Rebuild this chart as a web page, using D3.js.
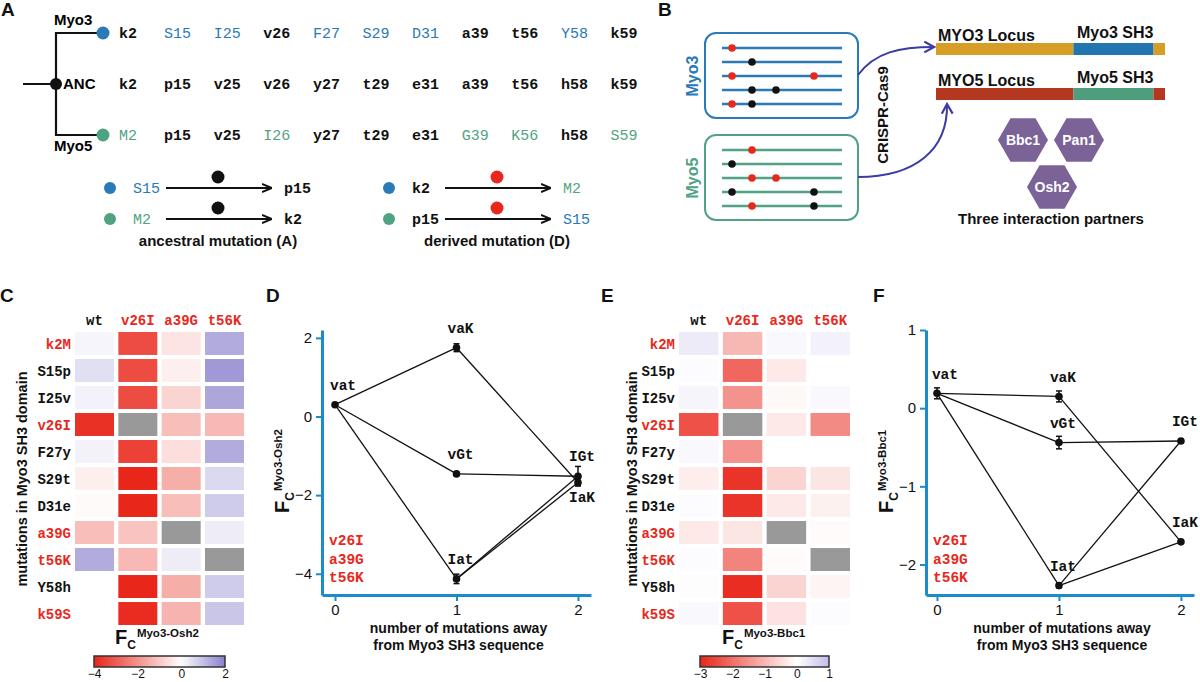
<!DOCTYPE html>
<html>
<head>
<meta charset="utf-8">
<script src="https://cdn.jsdelivr.net/npm/d3@7"></script>
<style>
  body { margin: 0; background: #fff; }
  svg { display: block; font-family: "Liberation Sans", Arial, sans-serif; }
  .mono { font-family: "Liberation Mono", "Courier New", monospace; }
</style>
</head>
<body>
<svg id="fig" width="1200" height="682"></svg>
<script>
// ---------- data ----------
// panel A: residues at the 11 variable sites
const myo3Seq = ["k2", "S15", "I25", "v26", "F27", "S29", "D31", "a39", "t56", "Y58", "k59"];
const ancSeq  = ["k2", "p15", "v25", "v26", "y27", "t29", "e31", "a39", "t56", "h58", "k59"];
const myo5Seq = ["M2", "p15", "v25", "I26", "y27", "t29", "e31", "G39", "K56", "h58", "S59"];
const ancestralExamples = [["S15", "p15"], ["M2", "k2"]];
const derivedExamples = [["k2", "M2"], ["p15", "S15"]];

// panel B: variant libraries (site index 0-60, A = ancestral, D = derived)
const myo3Variants = [
  [{ pos: 5, kind: "D" }],
  [{ pos: 15, kind: "A" }],
  [{ pos: 5, kind: "D" }, { pos: 46, kind: "D" }],
  [{ pos: 15, kind: "A" }, { pos: 27, kind: "A" }],
  [{ pos: 5, kind: "D" }, { pos: 15, kind: "A" }]
];
const myo5Variants = [
  [{ pos: 15, kind: "D" }],
  [{ pos: 5, kind: "A" }],
  [{ pos: 15, kind: "D" }, { pos: 27, kind: "D" }],
  [{ pos: 5, kind: "A" }, { pos: 46, kind: "A" }],
  [{ pos: 15, kind: "D" }, { pos: 46, kind: "A" }]
];
const lociNames = ["MYO3 Locus", "MYO5 Locus"];
const sh3Names = ["Myo3 SH3", "Myo5 SH3"];
const partners = ["Bbc1", "Pan1", "Osh2"];

// panels C, E: heatmaps (null = same mutation, grey)
const heatCols = ["wt", "v26I", "a39G", "t56K"];
const heatRows = ["k2M", "S15p", "I25v", "v26I", "F27y", "S29t", "D31e", "a39G", "t56K", "Y58h", "k59S"];
const redRows = ["k2M", "v26I", "a39G", "t56K", "k59S"];
const osh2Heat = [
  [0.15, -3.3, -0.5, 1.3],
  [0.5, -3.3, -0.3, 1.6],
  [0.2, -3.3, -0.8, 1.4],
  [-3.8, null, -1.2, -1.3],
  [0.2, -3.5, -0.6, 1.3],
  [-0.3, -4.0, -1.5, 0.6],
  [-0.1, -4.0, -1.2, 0.8],
  [-1.2, -1.1, null, 0.3],
  [1.3, -1.3, 0.3, null],
  [0.0, -4.0, -1.5, 0.8],
  [0.0, -3.9, -1.4, 0.9]
];
const bbc1Heat = [
  [0.3, -1.0, 0.1, 0.2],
  [0.05, -2.1, -0.3, 0.0],
  [0.15, -1.5, -0.1, 0.1],
  [-2.4, null, -0.3, -1.6],
  [0.1, -1.5, 0.0, 0.0],
  [-0.25, -2.8, -0.6, -0.35],
  [0.05, -2.8, -0.3, -0.2],
  [-0.3, -0.35, null, -0.05],
  [0.05, -1.7, -0.05, null],
  [0.03, -2.9, -0.6, -0.15],
  [0.1, -2.4, -0.4, 0.05]
];

// panels D, F: fitness landscapes
const genotypes = ["vat", "vaK", "vGt", "Iat", "IGt", "IaK"];
const genoSteps = [0, 1, 1, 1, 2, 2];
const osh2Fc  = [0.3, 1.75, -1.46, -4.13, -1.52, -1.68];
const osh2Err = [0.04, 0.1, 0.04, 0.12, 0.25, 0.06];
const bbc1Fc  = [0.19, 0.15, -0.44, -2.27, -0.42, -1.71];
const bbc1Err = [0.07, 0.07, 0.08, 0.03, 0.02, 0.02];
const edges = [["vat", "vaK"], ["vat", "vGt"], ["vat", "Iat"], ["vaK", "IaK"], ["vGt", "IGt"], ["Iat", "IGt"], ["Iat", "IaK"]];
const landscapeMuts = ["v26I", "a39G", "t56K"];

// ---------- styles ----------
const BLUE = "#2a7ab8", GREEN = "#4fa383", RED = "#e8281c", AXIS = "#1b8bcb", INK = "#111";
const svg = d3.select("#fig");

function panelLetter(x, y, t) {
  svg.append("text").attr("x", x).attr("y", y).attr("font-size", 19)
    .attr("font-weight", "bold").attr("fill", INK).text(t);
}

// ---------- panel A ----------
panelLetter(1, 16, "A");
const gA = svg.append("g");
const seqX = d3.scalePoint().domain(d3.range(myo3Seq.length)).range([128, 624]);
const rowY = d3.scalePoint().domain([0, 1, 2]).range([33, 135]);
const isUpper = d => d[0] === d[0].toUpperCase();
const resColor = d => !isUpper(d) ? INK : (myo3Seq.includes(d) ? BLUE : GREEN);

// tree
gA.append("path").attr("fill", "none").attr("stroke", INK).attr("stroke-width", 2.2)
  .attr("d", `M23,${rowY(1)}H56M103,${rowY(0)}H56V${rowY(2)}H103`);
gA.append("circle").attr("cx", 56).attr("cy", rowY(1)).attr("r", 6).attr("fill", INK);
gA.append("circle").attr("cx", 103).attr("cy", rowY(0)).attr("r", 6.5).attr("fill", BLUE);
gA.append("circle").attr("cx", 103).attr("cy", rowY(2)).attr("r", 6.5).attr("fill", GREEN);
gA.append("text").attr("x", 54).attr("y", 25).attr("font-size", 15).attr("font-weight", "bold").text("Myo3");
gA.append("text").attr("x", 54).attr("y", 151).attr("font-size", 15).attr("font-weight", "bold").text("Myo5");
gA.append("text").attr("x", 63).attr("y", rowY(1)).attr("dy", "0.36em").attr("font-size", 15)
  .attr("font-weight", "bold").text("ANC");

[myo3Seq, ancSeq, myo5Seq].forEach((seq, r) => {
  gA.selectAll(null).data(seq).enter().append("text")
    .attr("class", "mono")
    .attr("x", (d, i) => seqX(i)).attr("y", rowY(r)).attr("dy", "0.36em")
    .attr("text-anchor", "middle").attr("font-size", 15)
    .attr("font-weight", d => isUpper(d) ? "normal" : "bold")
    .attr("fill", d => isUpper(d) ? (r === 0 ? BLUE : GREEN) : INK)
    .text(d => d);
});

// mutation type legend
svg.append("defs").html(
  `<marker id="ah" viewBox="0 0 10 10" refX="9" refY="5" markerWidth="10" markerHeight="10" markerUnits="userSpaceOnUse" orient="auto">
     <path d="M0,1 L10,5 L0,9" fill="none" stroke="${INK}" stroke-width="2"/></marker>
   <marker id="bh" viewBox="0 0 12 12" refX="10" refY="6" markerWidth="13" markerHeight="13" markerUnits="userSpaceOnUse" orient="auto">
     <path d="M1,1 L10,6 L1,11" fill="none" stroke="#3b3ca6" stroke-width="2"/></marker>`);

const exRowY = [188, 219];
function mutationLegend(cx, examples, dotColor, label) {
  const g = gA.append("g").attr("transform", `translate(${cx},0)`);
  examples.forEach((ex, i) => {
    const y = exRowY[i];
    g.append("circle").attr("cx", -108).attr("cy", y).attr("r", 6).attr("fill", i === 0 ? BLUE : GREEN);
    g.append("text").attr("class", "mono").attr("x", -85).attr("y", y).attr("dy", "0.36em")
      .attr("font-size", 15).attr("font-weight", isUpper(ex[0]) ? "normal" : "bold")
      .attr("fill", resColor(ex[0])).text(ex[0]);
    g.append("line").attr("x1", -52).attr("x2", 53).attr("y1", y).attr("y2", y)
      .attr("stroke", INK).attr("stroke-width", 2.2).attr("marker-end", "url(#ah)");
    g.append("circle").attr("cx", 0).attr("cy", y - 11).attr("r", 6.5).attr("fill", dotColor);
    g.append("text").attr("class", "mono").attr("x", 66).attr("y", y).attr("dy", "0.36em")
      .attr("font-size", 15).attr("font-weight", isUpper(ex[1]) ? "normal" : "bold")
      .attr("fill", resColor(ex[1])).text(ex[1]);
  });
  g.append("text").attr("x", 0).attr("y", 246).attr("text-anchor", "middle")
    .attr("font-size", 15).attr("font-weight", "bold").attr("fill", INK).text(label);
}
mutationLegend(218, ancestralExamples, INK, "ancestral mutation (A)");
mutationLegend(497, derivedExamples, RED, "derived mutation (D)");

// ---------- panel B ----------
panelLetter(658, 16, "B");
const gB = svg.append("g");
const siteX = d3.scaleLinear().domain([0, 60]).range([722, 842]);
function library(y0, variants, color, name) {
  gB.append("rect").attr("x", 705).attr("y", y0).attr("width", 153).attr("height", 85)
    .attr("rx", 11).attr("fill", "none").attr("stroke", color).attr("stroke-width", 2);
  const ly = d3.scalePoint().domain(d3.range(variants.length)).range([y0 + 15, y0 + 71]);
  variants.forEach((v, i) => {
    gB.append("line").attr("x1", siteX(0)).attr("x2", siteX(60)).attr("y1", ly(i)).attr("y2", ly(i))
      .attr("stroke", color).attr("stroke-width", 2.6);
    gB.selectAll(null).data(v).enter().append("circle")
      .attr("cx", d => siteX(d.pos)).attr("cy", ly(i)).attr("r", 3.8)
      .attr("fill", d => d.kind === "D" ? RED : INK);
  });
  gB.append("text").attr("transform", `translate(692,${y0 + 43}) rotate(-90)`)
    .attr("text-anchor", "middle").attr("dy", "0.36em").attr("font-size", 16)
    .attr("font-weight", "bold").attr("fill", color).text(name);
}
library(33, myo3Variants, BLUE, "Myo3");
library(135, myo5Variants, GREEN, "Myo5");

gB.append("text").attr("transform", "translate(883,115) rotate(-90)").attr("text-anchor", "middle")
  .attr("dy", "0.36em").attr("font-size", 15).attr("font-weight", "bold").attr("fill", INK).text("CRISPR-Cas9");
gB.append("path").attr("d", "M858,75 C875,52 900,47 934,47").attr("fill", "none")
  .attr("stroke", "#3b3ca6").attr("stroke-width", 2).attr("marker-end", "url(#bh)");
gB.append("path").attr("d", "M858,177 C915,177 948,150 947,104").attr("fill", "none")
  .attr("stroke", "#3b3ca6").attr("stroke-width", 2).attr("marker-end", "url(#bh)");

const locusX = d3.scaleLinear().domain([0, 100]).range([936, 1165]);
const locusSegments = [[0, 60], [60, 95], [95, 100]];
const locusColors = [["#d69e26", "#2176b0", "#d69e26"], ["#b3381f", "#4e9e7e", "#b3381f"]];
const locusY = [43, 88];
lociNames.forEach((nm, k) => {
  gB.selectAll(null).data(locusSegments).enter().append("rect")
    .attr("x", d => locusX(d[0])).attr("width", d => locusX(d[1]) - locusX(d[0]))
    .attr("y", locusY[k]).attr("height", 12).attr("fill", (d, i) => locusColors[k][i]);
  gB.append("text").attr("x", 938).attr("y", locusY[k] - 2).attr("font-size", 16)
    .attr("font-weight", "bold").attr("fill", INK).text(nm);
  gB.append("text").attr("x", 1077).attr("y", locusY[k] - 5).attr("font-size", 16)
    .attr("font-weight", "bold").attr("fill", INK).text(sh3Names[k]);
});
const hexPts = d3.range(6).map(i => [25 * Math.cos(i * Math.PI / 3), 25 * Math.sin(i * Math.PI / 3)]);
const hexPos = [[1023, 140], [1079, 140], [1052, 187]];
partners.forEach((p, i) => {
  const g = gB.append("g").attr("transform", `translate(${hexPos[i][0]},${hexPos[i][1]})`);
  g.append("path").attr("d", d3.line()(hexPts) + "Z").attr("fill", "#7b6397");
  g.append("text").attr("text-anchor", "middle").attr("dy", "0.36em").attr("font-size", 14)
    .attr("font-weight", "bold").attr("fill", "#fff").text(p);
});
gB.append("text").attr("x", 1051).attr("y", 224).attr("text-anchor", "middle").attr("font-size", 15)
  .attr("font-weight", "bold").attr("fill", INK).text("Three interaction partners");

// ---------- heatmaps ----------
function fcLabel(g, partner, size) {
  g.append("tspan").attr("font-size", size).text("F");
  g.append("tspan").attr("font-size", 12).attr("dy", 5).text("C");
  g.append("tspan").attr("font-size", 11.5).attr("dy", -12).attr("dx", 1).text("Myo3-" + partner);
}

function heatmap(values, cfg) {
  const g = svg.append("g");
  const x = d3.scaleBand().domain(heatCols).range(cfg.xRange).paddingInner(0.1);
  const y = d3.scaleBand().domain(heatRows).range([332, 625]).paddingInner(0.15);
  const color = d3.scaleLinear().domain(cfg.domain).range(["#e8261a", "#ffffff", cfg.purple]).clamp(true);
  const cells = [];
  heatRows.forEach((r, i) => heatCols.forEach((c, j) => cells.push({ r, c, v: values[i][j] })));
  g.selectAll("rect").data(cells).enter().append("rect")
    .attr("x", d => x(d.c)).attr("y", d => y(d.r))
    .attr("width", x.bandwidth()).attr("height", y.bandwidth())
    .attr("fill", d => d.v === null ? "#999999" : color(d.v));
  g.selectAll(null).data(heatCols).enter().append("text").attr("class", "mono")
    .attr("x", d => x(d) + x.bandwidth() / 2).attr("y", 320).attr("dy", "0.36em")
    .attr("text-anchor", "middle").attr("font-size", 14).attr("font-weight", "bold")
    .attr("fill", d => d === "wt" ? INK : RED).text(d => d);
  g.selectAll(null).data(heatRows).enter().append("text").attr("class", "mono")
    .attr("x", x.range()[0] - 4).attr("y", d => y(d) + y.bandwidth() / 2).attr("dy", "0.36em")
    .attr("text-anchor", "end").attr("font-size", 14).attr("font-weight", "bold")
    .attr("fill", d => redRows.includes(d) ? RED : INK).text(d => d);
  g.append("text").attr("transform", `translate(${cfg.titleX},479) rotate(-90)`)
    .attr("text-anchor", "middle").attr("dy", "0.36em").attr("font-size", 14.5)
    .attr("font-weight", "bold").attr("fill", INK).text("mutations in Myo3 SH3 domain");
  fcLabel(g.append("text").attr("x", cfg.fX).attr("y", 644).attr("font-weight", "bold").attr("fill", INK), cfg.partner, 20);

  // colour bar
  const cb = d3.scaleLinear().domain([cfg.domain[0], cfg.domain[2]]).range(cfg.barRange);
  const gid = "grad" + cfg.partner;
  const grad = svg.select("defs").append("linearGradient").attr("id", gid);
  grad.selectAll("stop").data(d3.range(0, 1.001, 0.05)).enter().append("stop")
    .attr("offset", d => d)
    .attr("stop-color", d => color(cfg.domain[0] + d * (cfg.domain[2] - cfg.domain[0])));
  g.append("rect").attr("x", cfg.barRange[0]).attr("y", 656)
    .attr("width", cfg.barRange[1] - cfg.barRange[0]).attr("height", 11)
    .attr("fill", `url(#${gid})`).attr("stroke", "#333").attr("stroke-width", 1.5);
  const ax = g.append("g").attr("transform", "translate(0,667)")
    .call(d3.axisBottom(cb).tickValues(cfg.ticks).tickSize(0).tickPadding(2).tickFormat(d3.format("d")));
  ax.select(".domain").remove();
  ax.selectAll("text").attr("font-size", 12).attr("fill", INK).attr("font-family", "Liberation Sans, Arial, sans-serif");
}

panelLetter(0, 302, "C");
heatmap(osh2Heat, { xRange: [75, 244], domain: [-4, 0, 2], purple: "#8880cc", titleX: 22, fX: 115,
  partner: "Osh2", barRange: [94, 225], ticks: [-4, -2, 0, 2] });
panelLetter(601, 302, "E");
heatmap(bbc1Heat, { xRange: [679, 850], domain: [-3, 0, 1], purple: "#c3bce9", titleX: 632, fX: 722,
  partner: "Bbc1", barRange: [700, 829], ticks: [-3, -2, -1, 0, 1] });

// ---------- landscapes ----------
function landscape(fc, err, cfg) {
  const g = svg.append("g");
  const x = d3.scaleLinear().domain(cfg.xDomain).range(cfg.xRange);
  const y = d3.scaleLinear().domain(cfg.yDomain).range([595, 330]);
  const pts = genotypes.map((name, i) => ({ name, s: genoSteps[i], v: fc[i], e: err[i] }));
  const byName = new Map(pts.map(p => [p.name, p]));

  const yAx = g.append("g").attr("transform", `translate(${cfg.xRange[0]},0)`)
    .call(d3.axisLeft(y).tickValues(cfg.yTicks).tickSize(6).tickSizeOuter(0).tickPadding(4).tickFormat(d3.format("d")));
  const xAx = g.append("g").attr("transform", "translate(0,595)")
    .call(d3.axisBottom(x).tickValues([0, 1, 2]).tickSize(6).tickSizeOuter(0).tickPadding(3).tickFormat(d3.format("d")));
  [yAx, xAx].forEach(a => {
    a.select(".domain").attr("stroke", AXIS).attr("stroke-width", 3);
    a.selectAll(".tick line").attr("stroke", AXIS).attr("stroke-width", 2);
    a.selectAll("text").attr("font-size", 15).attr("fill", INK).attr("font-family", "Liberation Sans, Arial, sans-serif");
  });

  g.selectAll("line.edge").data(edges).enter().append("line")
    .attr("x1", d => x(byName.get(d[0]).s)).attr("y1", d => y(byName.get(d[0]).v))
    .attr("x2", d => x(byName.get(d[1]).s)).attr("y2", d => y(byName.get(d[1]).v))
    .attr("stroke", INK).attr("stroke-width", 1.3);
  const eb = g.selectAll("g.err").data(pts).enter().append("g");
  eb.append("line").attr("x1", d => x(d.s)).attr("x2", d => x(d.s))
    .attr("y1", d => y(d.v - d.e)).attr("y2", d => y(d.v + d.e)).attr("stroke", INK).attr("stroke-width", 1.5);
  eb.append("line").attr("x1", d => x(d.s) - 3).attr("x2", d => x(d.s) + 3)
    .attr("y1", d => y(d.v + d.e)).attr("y2", d => y(d.v + d.e)).attr("stroke", INK).attr("stroke-width", 1.5);
  eb.append("line").attr("x1", d => x(d.s) - 3).attr("x2", d => x(d.s) + 3)
    .attr("y1", d => y(d.v - d.e)).attr("y2", d => y(d.v - d.e)).attr("stroke", INK).attr("stroke-width", 1.5);
  g.selectAll("circle").data(pts).enter().append("circle")
    .attr("cx", d => x(d.s)).attr("cy", d => y(d.v)).attr("r", 3.8).attr("fill", INK);
  g.selectAll("text.lab").data(pts).enter().append("text").attr("class", "mono")
    .attr("x", d => x(d.s) + (d.s === 0 ? 8 : 4))
    .attr("y", d => y(d.v) + (cfg.below.includes(d.name) ? 14 : -20)).attr("dy", "0.36em")
    .attr("text-anchor", "middle").attr("font-size", 14.5).attr("font-weight", "bold")
    .attr("fill", INK).text(d => d.name);
  g.selectAll("text.mut").data(landscapeMuts).enter().append("text").attr("class", "mono")
    .attr("x", cfg.xRange[0] + 7).attr("y", (d, i) => 540 + i * 18.5).attr("dy", "0.36em")
    .attr("font-size", 14.5).attr("font-weight", "bold").attr("fill", RED).text(d => d);

  const cx = (cfg.xRange[0] + cfg.xRange[1]) / 2 + 2;
  g.append("text").attr("x", cx).attr("y", 633).attr("text-anchor", "middle").attr("font-size", 14)
    .attr("font-weight", "bold").attr("fill", INK).text("number of mutations away");
  g.append("text").attr("x", cx).attr("y", 650).attr("text-anchor", "middle").attr("font-size", 14)
    .attr("font-weight", "bold").attr("fill", INK).text("from Myo3 SH3 sequence");
  fcLabel(g.append("text").attr("transform", `translate(${cfg.xRange[0] - 33},513) rotate(-90)`)
    .attr("font-weight", "bold").attr("fill", INK), cfg.partner, 20);
}

panelLetter(266, 302, "D");
landscape(osh2Fc, osh2Err, { xDomain: [-0.107, 2.107], xRange: [322, 591], yDomain: [-4.54, 2.2],
  yTicks: [-4, -2, 0, 2], below: ["IaK"], partner: "Osh2" });
panelLetter(873, 302, "F");
landscape(bbc1Fc, bbc1Err, { xDomain: [-0.09, 2.107], xRange: [926, 1194], yDomain: [-2.39, 1],
  yTicks: [-2, -1, 0, 1], below: [], partner: "Bbc1" });
</script>
</body>
</html>
